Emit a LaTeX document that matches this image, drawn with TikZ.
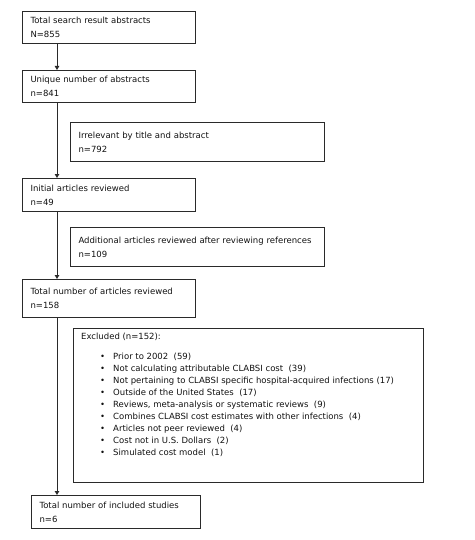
\documentclass[tikz,border=0pt]{standalone}
\usepackage{fontspec}
\setmainfont{DejaVu Sans}
\usetikzlibrary{arrows.meta}
\definecolor{ln}{HTML}{2A2A2A}
\definecolor{tx}{HTML}{111111}
\tikzset{
  box/.style={draw=ln, line width=1pt, anchor=north west, align=left, inner xsep=8pt, inner ysep=0pt,
     font=\fontsize{8.5}{13.8}\selectfont, text=tx},
  flow/.style={draw=ln, line width=1pt, -{Triangle[length=4pt,width=4.5pt]}},
}
\begin{document}
\begin{tikzpicture}[x=1pt,y=-1pt]
\useasboundingbox (0,0) rectangle (474,540);
\node[box, minimum width=173pt, minimum height=32pt, text width=157pt] (b1) at (22,11) {Total search result abstracts\\N=855};
\node[box, minimum width=173pt, minimum height=32pt, text width=157pt] (b2) at (22,70) {Unique number of abstracts\\n=841};
\node[box, minimum width=254pt, minimum height=39pt, text width=238pt] (b3) at (70,122) {Irrelevant by title and abstract\\n=792};
\node[box, minimum width=173pt, minimum height=33pt, text width=157pt] (b4) at (22,178) {Initial articles reviewed\\n=49};
\node[box, minimum width=254pt, minimum height=39pt, text width=238pt] (b5) at (70,227) {\mbox{Additional articles reviewed after reviewing references}\\n=109};
\node[box, minimum width=173pt, minimum height=38pt, text width=157pt] (b6) at (22,279) {Total number of articles reviewed\\n=158};
\node[draw=ln, line width=1pt, anchor=north west, minimum width=350pt, minimum height=154pt] (b7) at (73,328) {};
\node[anchor=north west, align=left, inner sep=0pt, font=\fontsize{8.5}{12}\selectfont, text=tx] (t7) at (81,333) {Excluded (n=152):\\[7.5pt]
\hspace*{19pt}\textbullet\hspace{8pt}Prior to 2002\ \ (59)\\
\hspace*{19pt}\textbullet\hspace{8pt}Not calculating attributable CLABSI cost\ \ (39)\\
\hspace*{19pt}\textbullet\hspace{8pt}Not pertaining to CLABSI specific hospital-acquired infections (17)\\
\hspace*{19pt}\textbullet\hspace{8pt}Outside of the United States\ \ (17)\\
\hspace*{19pt}\textbullet\hspace{8pt}Reviews, meta-analysis or systematic reviews\ \ (9)\\
\hspace*{19pt}\textbullet\hspace{8pt}Combines CLABSI cost estimates with other infections\ \ (4)\\
\hspace*{19pt}\textbullet\hspace{8pt}Articles not peer reviewed\ \ (4)\\
\hspace*{19pt}\textbullet\hspace{8pt}Cost not in U.S. Dollars\ \ (2)\\
\hspace*{19pt}\textbullet\hspace{8pt}Simulated cost model\ \ (1)};
\node[box, minimum width=169pt, minimum height=33pt, text width=153pt] (b8) at (31,495) {Total number of included studies\\n=6};
\draw[flow] (b1.south west -| 57,0) -- (b2.north west -| 57,0);
\draw[flow] (b2.south west -| 57,0) -- (b4.north west -| 57,0);
\draw[flow] (b4.south west -| 57,0) -- (b6.north west -| 57,0);
\draw[flow] (b6.south west -| 57,0) -- (b8.north west -| 57,0);
\end{tikzpicture}
\end{document}
